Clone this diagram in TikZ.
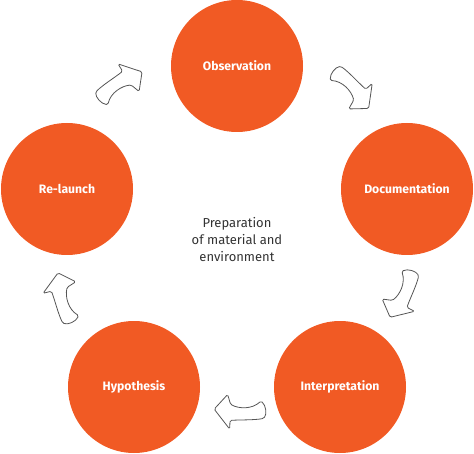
\documentclass[tikz,border=0pt]{standalone}
\usepackage{fontspec}
\setmainfont{Fira Sans}
\usepackage{tikz}
\definecolor{CycOrange}{HTML}{F15A24}
\definecolor{CycLine}{HTML}{555555}

\begin{document}
\begin{tikzpicture}[
  x=1pt,y=1pt,
  stage/.style={circle,fill=CycOrange,minimum size=132pt,inner sep=0pt,text=white,font=\fontsize{12.2}{14}\selectfont\bfseries},
  note/.style={align=center,text=black!80,font=\fontsize{13}{17}\selectfont},
  turn/.style={draw=CycLine,fill=white,line width=0.8pt,rounded corners=1.5pt},
  cyclearrow/.pic={
    \path[turn,scale=1.08] (23,0) -- (11,-14) -- (8,-5)
      .. controls (0,-1) and (-12,-1) .. (-20,-9)
      .. controls (-25,-5) and (-26,3) .. (-23,7)
      .. controls (-14,9) and (0,9) .. (8,10)
      -- (8,18) -- cycle;
  }
]
\useasboundingbox (0,0) rectangle (474,453);
% stages of the cycle
\node[stage] (obs) at (237,387) {Observation};
\node[stage] (doc) at (407,264) {Documentation};
\node[stage] (interp) at (340,66) {Interpretation};
\node[stage] (hyp) at (134,66) {Hypothesis};
\node[stage] (relaunch) at (67,264) {Re-launch};
\node[note] (prep) at (237,213) {Preparation\\of material and\\environment};
% outlined arrows between the stages
\pic[rotate=32] at (121,368) {cyclearrow};
\pic[rotate=-48] at (352,363) {cyclearrow};
\pic[rotate=-116] at (401,158) {cyclearrow};
\pic[rotate=178] at (239,43) {cyclearrow};
\pic[rotate=104] at (64,156) {cyclearrow};
\end{tikzpicture}
\end{document}
